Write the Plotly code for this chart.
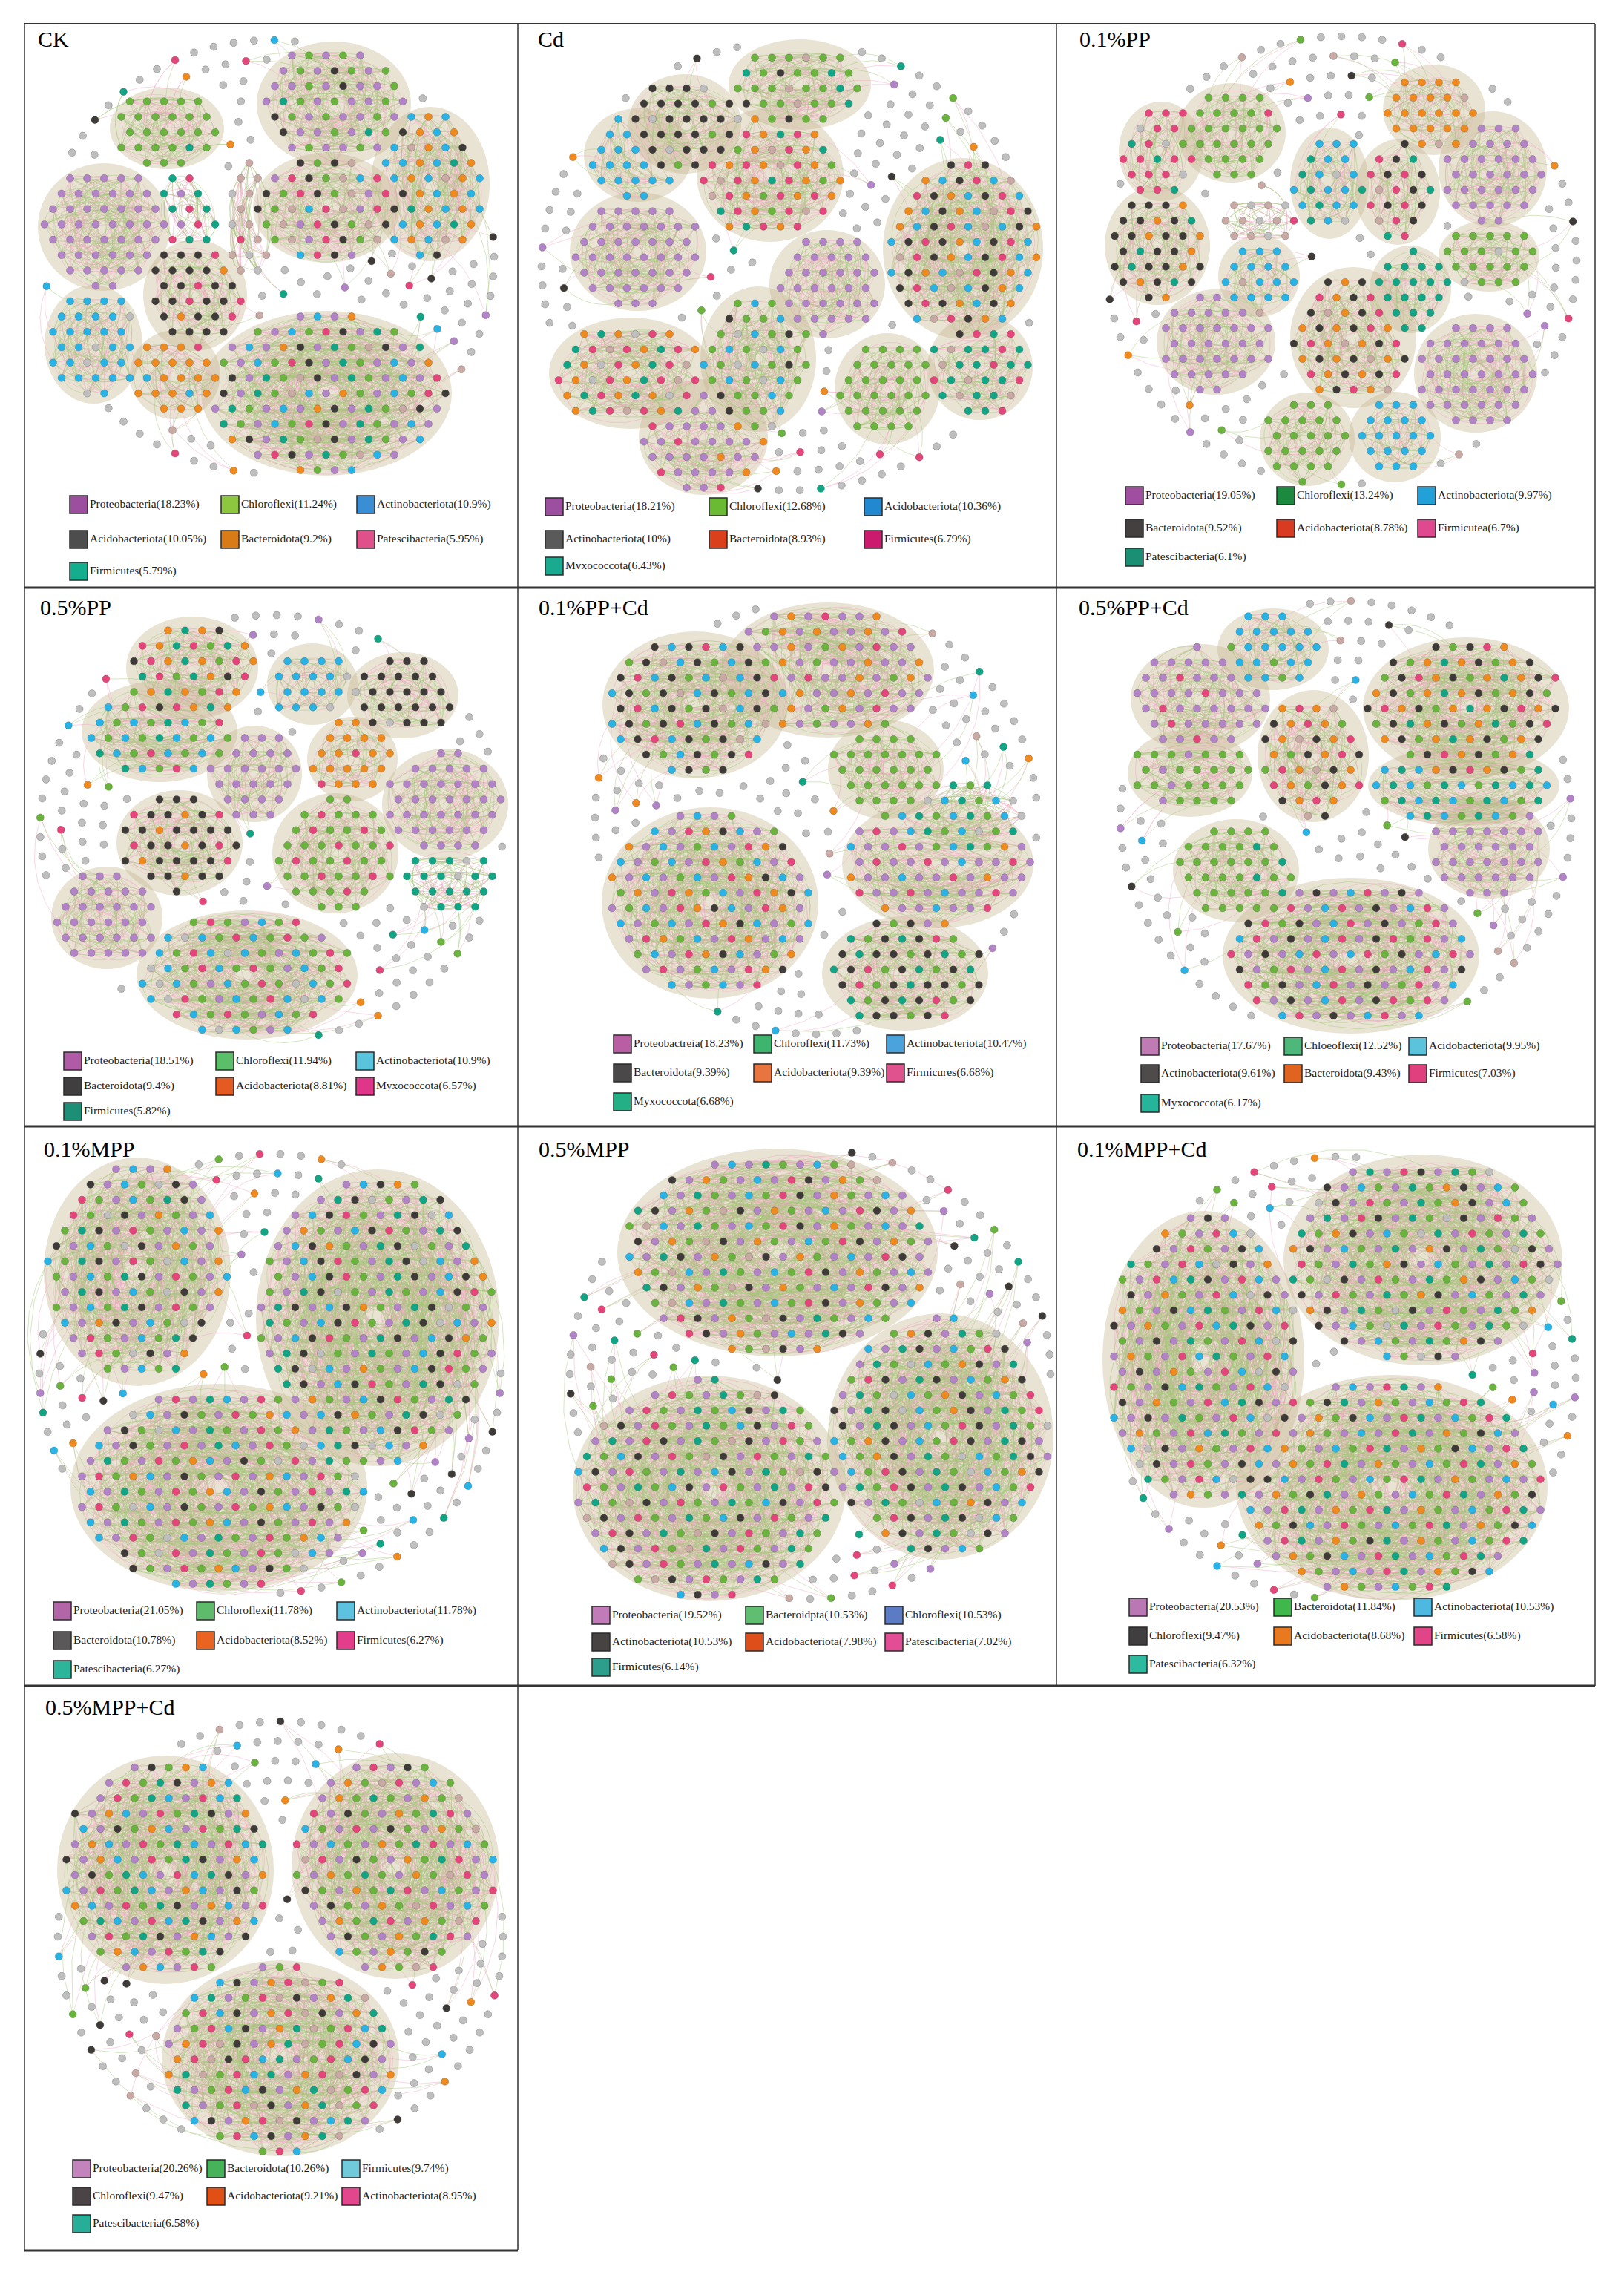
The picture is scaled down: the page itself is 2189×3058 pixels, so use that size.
import math
import plotly.graph_objects as go

# ===== DATA =====
PANEL_TITLES = ["CK", "Cd", "0.1%PP",
                "0.5%PP", "0.1%PP+Cd", "0.5%PP+Cd",
                "0.1%MPP", "0.5%MPP", "0.1%MPP+Cd",
                "0.5%MPP+Cd"]

LEGEND_NAMES = [
    ["Proteobacteria", "Chloroflexi", "Actinobacteriota", "Acidobacteriota", "Bacteroidota", "Patescibacteria", "Firmicutes"],
    ["Proteobacteria", "Chloroflexi", "Acidobacteriota", "Actinobacteriota", "Bacteroidota", "Firmicutes", "Mvxococcota"],
    ["Proteobacteria", "Chloroflexi", "Actinobacteriota", "Bacteroidota", "Acidobacteriota", "Firmicutea", "Patescibacteria"],
    ["Proteobacteria", "Chloroflexi", "Actinobacteriota", "Bacteroidota", "Acidobacteriota", "Myxococcota", "Firmicutes"],
    ["Proteobactreia", "Chloroflexi", "Actinobacteriota", "Bacteroidota", "Acidobacteriota", "Firmicures", "Myxococcota"],
    ["Proteobacteria", "Chloeoflexi", "Acidobacteriota", "Actinobacteriota", "Bacteroidota", "Firmicutes", "Myxococcota"],
    ["Proteobacteria", "Chloroflexi", "Actinobacteriota", "Bacteroidota", "Acidobacteriota", "Firmicutes", "Patescibacteria"],
    ["Proteobacteria", "Bacteroidpta", "Chloroflexi", "Actinobacteriota", "Acidobacteriota", "Patescibacteria", "Firmicutes"],
    ["Proteobacteria", "Bacteroidota", "Actinobacteriota", "Chloroflexi", "Acidobacteriota", "Firmicutes", "Patescibacteria"],
    ["Proteobacteria", "Bacteroidota", "Firmicutes", "Chloroflexi", "Acidobacteriota", "Actinobacteriota", "Patescibacteria"],
]

LEGEND_PCTS = [
    ["18.23", "11.24", "10.9", "10.05", "9.2", "5.95", "5.79"],
    ["18.21", "12.68", "10.36", "10", "8.93", "6.79", "6.43"],
    ["19.05", "13.24", "9.97", "9.52", "8.78", "6.7", "6.1"],
    ["18.51", "11.94", "10.9", "9.4", "8.81", "6.57", "5.82"],
    ["18.23", "11.73", "10.47", "9.39", "9.39", "6.68", "6.68"],
    ["17.67", "12.52", "9.95", "9.61", "9.43", "7.03", "6.17"],
    ["21.05", "11.78", "11.78", "10.78", "8.52", "6.27", "6.27"],
    ["19.52", "10.53", "10.53", "10.53", "7.98", "7.02", "6.14"],
    ["20.53", "11.84", "10.53", "9.47", "8.68", "6.58", "6.32"],
    ["20.26", "10.26", "9.74", "9.47", "9.21", "8.95", "6.58"],
]

LEGEND_COLORS = [
    ["#9B4F9E", "#8DC63F", "#3A8FD4", "#4D4D4D", "#D97B17", "#E0508A", "#14AE8F"],
    ["#9B4F9E", "#6BBA33", "#2288D0", "#5A5A5A", "#D9401B", "#CC1A6F", "#1AAA90"],
    ["#A04E9F", "#1B8A3E", "#22A0D8", "#454040", "#D93A22", "#E04890", "#1A8F74"],
    ["#B05BA5", "#5BBF6A", "#5BC4DD", "#403E3E", "#E55A20", "#E0368A", "#1E8F77"],
    ["#B95EA5", "#3DB56E", "#4AA3DD", "#4A4848", "#E8743F", "#E0528E", "#23B084"],
    ["#C07BB5", "#4DB87A", "#5BC3DB", "#4F4B4B", "#E06420", "#E0407E", "#25B59A"],
    ["#B265A7", "#5DBB6B", "#5CC2E0", "#5A5858", "#E86420", "#E23E8C", "#2DB59C"],
    ["#C07BB8", "#60BE70", "#5B7BC4", "#474343", "#DD4E1A", "#E34D95", "#2E9E8C"],
    ["#B978B3", "#3FB74A", "#4DB8E0", "#403E3E", "#E8791F", "#E24587", "#2DBA9F"],
    ["#C383BC", "#46B25A", "#70CAD9", "#4A4446", "#E05014", "#E2478E", "#26AE98"],
]

# module composition (node colour code : share) for every module of each network
# P purple, G green, B blue, K dark, O orange, R pink, T teal, N tan, A grey
CLUSTER_MIX = [
    ["G:20,T:1", "P", "P:10,G:6,K:2,T:1", "K:3,N:3,R:3,G:3,P:2,B:1", "B:5,O:4,K:1,T:1,N:1",
     "K:8,R:2,O:1", "B:6,A:1", "O:8,B:1", "P:5,G:3,K:2,B:2,T:2,O:1,R:1,N:1", "T:3,R:2,P:1", "N:5,A:2,R:1"],
    ["K:6,A:1,G:1", "G:6,T:1,N:1,K:1", "B", "O:3,R:3,G:1,T:1,N:1", "P", "P",
     "K:3,B:3,R:2,O:2,N:1", "T:3,R:1,N:1", "G", "G:4,B:2,K:1,A:1", "O:3,R:3,T:2,A:1,N:1", "P:6,R:1,O:1"],
    ["O:10,N:1", "G:10,R:1", "R:4,T:1,A:1", "P", "B:5,T:2,A:1", "K:3,R:3,T:1,N:1", "K:5,O:2,T:1",
     "N:4,A:2,R:1", "B:6,N:1", "G:8,A:1", "T", "P", "K:3,O:3,R:2,N:1", "P", "G", "B"],
    ["O:3,R:2,T:2,K:1,G:1", "G:3,B:3,R:1,T:1", "B:6,A:1", "K:8,A:1", "P", "O:8,R:1", "P",
     "G:6,R:2", "K:5,O:1,R:1", "P", "T:5,A:1", "G:3,B:3,R:2,P:1,A:1"],
    ["K:4,B:3,G:2,R:1,N:1", "P:6,O:3,R:1,G:1", "G", "T:2,B:2,G:2,A:1",
     "P:4,O:2,B:3,R:2,G:2,K:1", "P:6,R:2,B:1,O:1", "K:4,G:2,T:2,R:1"],
    ["B:5,G:1", "P:6,R:1", "G:5,P:1", "O:3,K:2,R:2,N:1,G:1", "K:3,O:3,G:2,R:1,T:1",
     "B:3,T:3,G:2", "P", "G:6,T:1", "P:4,R:3,K:2,B:2,G:1"],
    ["P:4,G:3,K:2,B:2,R:1,O:1,T:1,A:1", "P:4,K:3,G:3,B:2,T:2,O:1,R:1,A:1",
     "P:4,G:3,B:2,R:2,K:1,T:1,O:1,A:1"],
    ["P:5,G:3,K:2,B:2,O:2,T:1,R:1,N:1", "P:4,G:3,K:2,T:2,R:2,B:1,N:1",
     "P:3,G:3,K:3,B:2,T:2,O:1,R:1,A:1"],
    ["P:4,G:3,K:2,T:2,B:1,R:1,O:1,A:1", "P:4,B:2,G:2,K:2,R:2,O:1,T:1,A:1",
     "P:4,G:3,T:2,B:2,O:2,R:2,K:1"],
    ["P:4,G:2,B:3,K:2,R:2,O:2,T:2", "P:4,G:4,R:2,O:2,B:1,K:1,T:1,N:1",
     "P:3,R:3,T:2,K:2,G:2,O:2,B:2,N:2"],
]

# nodes outside the modules (mostly grey)
LOOSE_MIX = [
    "A:16,N:1,K:1,R:1,P:1,B:1,O:1,T:1",
    "A:18,G:1,K:1,R:1,P:1,T:1,O:1",
    "A:18,G:1,K:1,R:1,P:1,N:1,O:1",
    "A:18,T:1,R:1,G:1,P:1,O:1,B:1",
    "A:18,T:1,P:1,O:1,B:1,N:1",
    "A:18,G:1,P:1,B:1,N:1,K:1",
    "A:9,P:1,G:1,B:1,O:1,K:1,R:1,T:1",
    "A:9,P:1,G:1,K:1,R:1,T:1,N:1",
    "A:9,P:1,G:1,B:1,O:1,T:1,R:1",
    "A:20,K:2,B:1,R:1,N:1,O:1,G:1",
]

NODE_COLORS = {"P": "#B383C8", "G": "#6AB43E", "B": "#27B3E6", "K": "#3E3A37",
               "O": "#F08A1C", "R": "#E5457A", "T": "#10A585", "N": "#C9A9A3",
               "A": "#BEBEBE"}

# ===== LAYOUT (pixels) =====
COL_X = [33, 698, 1424]
ROW_Y = [32, 792, 1518, 2272]
PANEL_ORIGINS = [(COL_X[i % 3], ROW_Y[i // 3]) for i in range(10)]

# network outline ellipse per panel (offset cx, cy, rx, ry)
NET_CIRCLES = [(330, 314, 303, 292), (366, 327, 334, 302), (384, 319, 317, 302),
               (333, 323, 312, 286), (402, 310, 298, 292), (390, 311, 304, 293),
               (331, 333, 311, 296), (394, 334, 324, 303), (383, 339, 317, 298),
               (345, 338, 300, 290)]

# module ellipses (cx, cy, rx, ry, filled)
CLUSTER_GEOM = [
    [(192, 141, 73, 51, 1), (107, 274, 85, 82, 1), (417, 108, 100, 80, 1), (407, 248, 95, 70, 1),
     (547, 216, 76, 100, 1), (230, 366, 66, 71, 1), (93, 432, 62, 76, 1), (203, 473, 57, 56, 1),
     (407, 498, 165, 107, 1), (218, 256, 42, 62, 0), (311, 264, 40, 80, 0)],
    [(225, 135, 72, 63, 1), (380, 82, 92, 57, 1), (162, 177, 69, 59, 1), (340, 204, 95, 86, 1),
     (162, 307, 88, 76, 1), (417, 351, 74, 69, 1), (600, 303, 104, 118, 1), (623, 463, 67, 67, 1),
     (498, 492, 67, 71, 1), (324, 452, 74, 94, 1), (152, 471, 106, 71, 1), (250, 557, 83, 74, 1)],
    [(509, 116, 65, 57, 1), (236, 147, 69, 63, 1), (141, 172, 53, 63, 1), (588, 196, 69, 74, 1),
     (368, 215, 49, 71, 1), (460, 227, 53, 67, 1), (136, 299, 67, 76, 1), (273, 262, 60, 30, 0),
     (273, 340, 51, 51, 1), (583, 313, 64, 44, 1), (477, 358, 51, 55, 1), (215, 429, 76, 67, 1),
     (400, 423, 81, 91, 1), (565, 471, 79, 76, 1), (338, 560, 60, 59, 1), (456, 557, 58, 57, 1)],
    [(226, 108, 85, 65, 1), (182, 194, 101, 64, 1), (388, 130, 57, 51, 1), (510, 145, 71, 54, 1),
     (310, 251, 60, 61, 1), (442, 231, 57, 53, 1), (567, 292, 81, 71, 1), (419, 358, 81, 77, 1),
     (209, 344, 81, 67, 1), (111, 445, 71, 65, 1), (570, 393, 70, 45, 0), (300, 522, 145, 83, 1)],
    [(239, 158, 121, 95, 1), (418, 111, 139, 87, 1), (496, 245, 74, 63, 1), (600, 306, 90, 50, 0),
     (259, 425, 142, 125, 1), (566, 372, 125, 83, 1), (522, 520, 108, 73, 1)],
    [(292, 83, 71, 51, 1), (194, 150, 90, 70, 1), (180, 250, 80, 55, 1), (346, 227, 71, 85, 1),
     (552, 162, 135, 91, 1), (549, 267, 125, 50, 1), (583, 352, 78, 63, 1), (242, 381, 81, 65, 1),
     (397, 496, 169, 101, 1)],
    [(152, 196, 122, 150, 1), (476, 258, 160, 196, 1), (262, 487, 196, 136, 1)],
    [(350, 170, 212, 136, 1), (258, 488, 180, 148, 1), (570, 418, 148, 162, 1)],
    [(494, 180, 184, 138, 1), (198, 314, 132, 196, 1), (452, 487, 206, 148, 1)],
    [(190, 248, 142, 150, 1), (500, 243, 136, 148, 1), (345, 502, 156, 128, 1)],
]

# legend square columns (x) and rows (y) per panel, offsets
LEGEND_COLS = [(73, 277, 460), (49, 270, 479), (105, 309, 499), (65, 270, 459), (141, 330, 509),
               (126, 319, 487), (51, 244, 433), (112, 319, 507), (110, 305, 494), (77, 258, 440)]
LEGEND_ROWS = [(648, 695, 738), (651, 695, 731), (636, 680, 719), (638, 672, 706), (615, 654, 693),
               (618, 655, 695), (653, 693, 732), (659, 695, 729), (648, 687, 725), (651, 688, 725)]
TITLE_DX = [16, 25, 29, 19, 26, 28, 24, 26, 26, 26]
TITLE_DY = [20, 20, 20, 26, 26, 26, 30, 30, 30, 28]

SPACING = 23
RING_STEP = 27
SERIF = "Liberation Serif, Times New Roman, serif"


def parse_mix(mix):
    out = []
    for part in mix.split(","):
        if ":" in part:
            code, w = part.split(":")
            out.append((code, float(w)))
        else:
            out.append((part, 1.0))
    return out


def assign_colors(n, mix):
    """Spread the colour shares of a module over its n nodes."""
    parts = parse_mix(mix)
    total = sum(w for _, w in parts)
    counts = [int(n * w / total) for _, w in parts]
    rest = n - sum(counts)
    order = sorted(range(len(parts)), key=lambda k: -parts[k][1])
    for k in range(rest):
        counts[order[k % len(order)]] += 1
    seq = []
    for (code, _), c in zip(parts, counts):
        seq += [code] * c
    slots = sorted(range(n), key=lambda i: (i * 0.6180339887) % 1)
    colors = [None] * n
    for s, code in zip(slots, seq):
        colors[s] = code
    return colors


def in_ellipse(x, y, cx, cy, rx, ry):
    return ((x - cx) / rx) ** 2 + ((y - cy) / ry) ** 2 <= 1


def curve(xa, ya, xb, yb, bend, cx, cy):
    """Quadratic bezier between two nodes, bulging away from the module centre."""
    mx, my = (xa + xb) / 2, (ya + yb) / 2
    dx, dy = xb - xa, yb - ya
    px, py = -dy, dx
    if px * (mx - cx) + py * (my - cy) < 0:
        px, py = -px, -py
    qx, qy = mx + px * bend, my + py * bend
    xs, ys = [], []
    for t in (0, 0.2, 0.4, 0.6, 0.8, 1.0):
        u = 1 - t
        xs.append(u * u * xa + 2 * u * t * qx + t * t * xb)
        ys.append(u * u * ya + 2 * u * t * qy + t * t * yb)
    return xs + [None], ys + [None]


fig = go.Figure()
shapes = []
pink_x, pink_y, green_x, green_y = [], [], [], []
node_x, node_y, node_c = [], [], []


def add_edge(a, b, bend, centre, pink):
    xs, ys = curve(a[0], a[1], b[0], b[1], bend, centre[0], centre[1])
    if pink:
        pink_x.extend(xs)
        pink_y.extend(ys)
    else:
        green_x.extend(xs)
        green_y.extend(ys)


for p in range(10):
    ox, oy = PANEL_ORIGINS[p]
    ccx, ccy, crx, cry = NET_CIRCLES[p]
    geom = CLUSTER_GEOM[p]

    # modules: shared hex grid, each point goes to the first module containing it
    members = [[] for _ in geom]
    row = 0
    y = ccy - cry
    while y <= ccy + cry:
        x = ccx - crx + (SPACING / 2 if row % 2 else 0)
        while x <= ccx + crx:
            for ci, (gx, gy, grx, gry, _) in enumerate(geom):
                if in_ellipse(x, y, gx, gy, grx, gry):
                    members[ci].append((ox + x, oy + y))
                    break
            x += SPACING
        y += SPACING * 0.9
        row += 1

    module_nodes = []
    for ci, (gx, gy, grx, gry, filled) in enumerate(geom):
        pts = members[ci]
        n = len(pts)
        centre = (ox + gx, oy + gy)
        if filled:
            shapes.append(dict(type="circle", xref="x", yref="y", layer="below",
                               x0=ox + gx - grx - 4, x1=ox + gx + grx + 4,
                               y0=oy + gy - gry - 4, y1=oy + gy + gry + 4,
                               fillcolor="rgba(196,182,142,0.38)", line=dict(width=0)))
        if n > 3:
            steps = sorted(set([1, 2, max(3, n // 6), max(4, n // 3), n // 2,
                                max(5, (3 * n) // 5), max(6, (4 * n) // 5)]))
            for i in range(n):
                for si, s in enumerate(steps):
                    j = (i + s + (i % 5)) % n
                    if j == i:
                        continue
                    bend = 0.28 if (i + si) % 3 == 0 else 0.12
                    add_edge(pts[i], pts[j], bend, centre, (i + si) % 2 == 1)
        cols = assign_colors(n, CLUSTER_MIX[p][ci])
        for (x, y), c in zip(pts, cols):
            node_x.append(x)
            node_y.append(y)
            node_c.append(NODE_COLORS[c])
        module_nodes.append(pts)

    # loose nodes on concentric rings of the network outline
    loose = []
    rmean = (crx + cry) / 2
    k = 0
    while True:
        s = 1 - k * RING_STEP / rmean
        if s < 0.08:
            break
        erx, ery = crx * s, cry * s
        circ = 2 * math.pi * math.sqrt((erx ** 2 + ery ** 2) / 2)
        m = max(int(circ / RING_STEP), 1)
        off = (k * 0.37) % 1
        for i in range(m):
            a = 2 * math.pi * (i + off) / m
            x = ccx + erx * math.cos(a)
            y = ccy + ery * math.sin(a)
            if any(in_ellipse(x, y, gx, gy, grx + 13, gry + 13) for gx, gy, grx, gry, _ in geom):
                continue
            loose.append((ox + x, oy + y))
        k += 1
    cols = assign_colors(len(loose), LOOSE_MIX[p])
    for li, ((x, y), c) in enumerate(zip(loose, cols)):
        node_x.append(x)
        node_y.append(y)
        node_c.append(NODE_COLORS[c])
        # coloured stray nodes hang on the nearest module with a few long edges
        if c != "A":
            best = min(range(len(geom)),
                       key=lambda q: (ox + geom[q][0] - x) ** 2 + (oy + geom[q][1] - y) ** 2)
            tgt = module_nodes[best]
            if tgt:
                for r in range(3):
                    b = tgt[(li * 7 + r * 13) % len(tgt)]
                    add_edge((x, y), b, 0.25, (ox + ccx, oy + ccy), (li + r) % 2 == 0)

fig.add_trace(go.Scatter(x=pink_x, y=pink_y, mode="lines", hoverinfo="skip",
                         line=dict(color="rgba(242,165,195,0.6)", width=0.75)))
fig.add_trace(go.Scatter(x=green_x, y=green_y, mode="lines", hoverinfo="skip",
                         line=dict(color="rgba(160,198,118,0.6)", width=0.75)))
fig.add_trace(go.Scatter(x=node_x, y=node_y, mode="markers", hoverinfo="skip",
                         marker=dict(size=10, color=node_c,
                                     line=dict(color="rgba(90,90,90,0.55)", width=0.6))))

# ===== LEGENDS =====
sq_x, sq_y, sq_c, tx, ty, tt = [], [], [], [], [], []
for p in range(10):
    ox, oy = PANEL_ORIGINS[p]
    for k, (name, pct, col) in enumerate(zip(LEGEND_NAMES[p], LEGEND_PCTS[p], LEGEND_COLORS[p])):
        x = ox + LEGEND_COLS[p][k % 3]
        y = oy + LEGEND_ROWS[p][k // 3]
        sq_x.append(x)
        sq_y.append(y)
        sq_c.append(col)
        tx.append(x + 15)
        ty.append(y)
        tt.append(f"{name}({pct}%)")

fig.add_trace(go.Scatter(x=sq_x, y=sq_y, mode="markers", hoverinfo="skip",
                         marker=dict(symbol="square", size=24, color=sq_c,
                                     line=dict(color="#2b2b2b", width=1.5))))
fig.add_trace(go.Scatter(x=tx, y=ty, mode="text", text=tt, textposition="middle right",
                         hoverinfo="skip", textfont=dict(family=SERIF, size=15.5, color="#1a1a1a")))

# ===== TITLES =====
annotations = []
for p in range(10):
    ox, oy = PANEL_ORIGINS[p]
    annotations.append(dict(x=ox + TITLE_DX[p], y=oy + TITLE_DY[p], xref="x", yref="y",
                            text=PANEL_TITLES[p], showarrow=False, xanchor="left", yanchor="middle",
                            font=dict(family=SERIF, size=30, color="#000000")))

# ===== PANEL BORDERS =====
for yy in ROW_Y:
    shapes.append(dict(type="line", xref="x", yref="y", x0=COL_X[0], x1=2150, y0=yy, y1=yy,
                       line=dict(color="#333333", width=3 if yy != ROW_Y[0] else 2)))
shapes.append(dict(type="line", xref="x", yref="y", x0=COL_X[0], x1=COL_X[1], y0=3033, y1=3033,
                   line=dict(color="#333333", width=3)))
for xx, ybot in [(COL_X[0], 3033), (COL_X[1], 3033), (COL_X[2], ROW_Y[3]), (2150, ROW_Y[3])]:
    shapes.append(dict(type="line", xref="x", yref="y", x0=xx, x1=xx, y0=ROW_Y[0], y1=ybot,
                       line=dict(color="#333333", width=1.5)))

fig.update_layout(
    width=2189, height=3058,
    margin=dict(l=0, r=0, t=0, b=0),
    paper_bgcolor="white", plot_bgcolor="white",
    showlegend=False,
    shapes=shapes,
    annotations=annotations,
    xaxis=dict(range=[0, 2189], visible=False, fixedrange=True),
    yaxis=dict(range=[3058, 0], visible=False, fixedrange=True),
)

fig.write_html("out.html", config={"displayModeBar": False},
               post_script="document.body.style.margin='0px';")
